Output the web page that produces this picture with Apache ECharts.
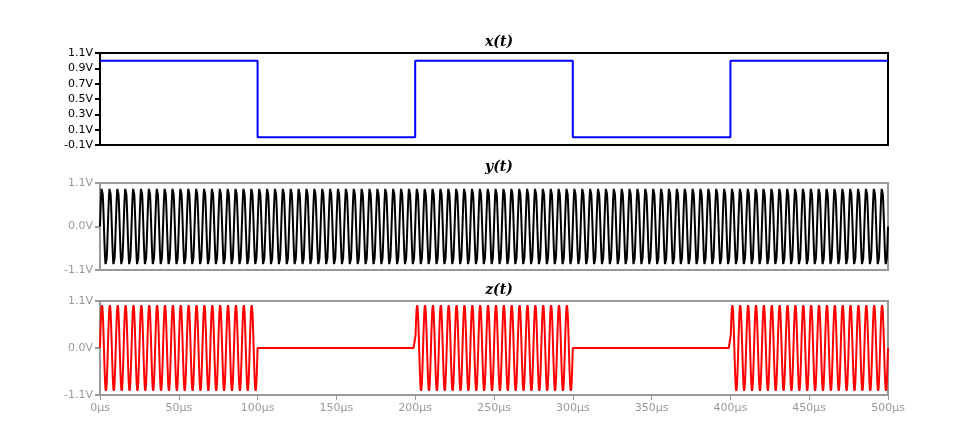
<!DOCTYPE html>
<html>
<head>
<meta charset="utf-8">
<script src="https://cdn.jsdelivr.net/npm/echarts@6/dist/echarts.min.js"></script>
<style>html,body{margin:0;padding:0;background:#fff}#c{width:954px;height:432px}</style>
</head>
<body>
<div id="c"></div>
<script>
// x(t): square wave edges (µs) and levels (V)
const gateTimes = [0, 100, 200, 300, 400, 500];
const gateLevels = [1, 0, 1, 0, 1, 1];
// y(t): carrier, 200 kHz => 5 µs per cycle, one cycle sampled in 20 steps
const carrierPeriod = 5;
const cycleShape = [0, 0.31, 0.59, 0.81, 0.95, 1, 0.95, 0.81, 0.59, 0.31,
                    0, -0.31, -0.59, -0.81, -0.95, -1, -0.95, -0.81, -0.59, -0.31];
const timeTicks = [0, 50, 100, 150, 200, 250, 300, 350, 400, 450, 500];

const xData = gateTimes.map((t, i) => [t, gateLevels[i]]);
const yData = [], zData = [];
const nCycles = 500 / carrierPeriod;
const dt = carrierPeriod / cycleShape.length;
for (let c = 0; c < nCycles; c++) {
    cycleShape.forEach((v, k) => {
        const t = c * carrierPeriod + k * dt;
        yData.push([t, v]);
        let g = 0;
        for (let i = 0; i < gateTimes.length - 1; i++) {
            if (t >= gateTimes[i] && t < gateTimes[i + 1]) g = gateLevels[i];
        }
        zData.push([t, v * g]);
    });
}
yData.push([500, 0]); zData.push([500, 0]);

const chart = echarts.init(document.getElementById('c'));
const grey = '#999';
const font = 'Segoe UI, DejaVu Sans, sans-serif';
function xAxis(idx, showLabels) {
    return {
        gridIndex: idx, type: 'value', min: 0, max: 500, interval: 50,
        axisLine: { show: false, onZero: false },
        axisTick: { show: showLabels, lineStyle: { color: grey } },
        axisLabel: { show: showLabels, color: grey, fontSize: 11, fontFamily: font, formatter: v => v + 'µs' },
        splitLine: { show: false }
    };
}
function titleAt(text, top) {
    return { text: text, left: 494, top: top, textAlign: 'center',
        textStyle: { fontFamily: 'DejaVu Serif, serif', fontStyle: 'italic', fontWeight: 'bold', fontSize: 14, color: '#000' } };
}
chart.setOption({
    animation: false,
    title: [titleAt('x(t)', 30), titleAt('y(t)', 155), titleAt('z(t)', 278)],
    grid: [
        { left: 100, right: 66, top: 53, height: 92, show: true, borderColor: '#000', borderWidth: 2 },
        { left: 100, right: 66, top: 183, height: 87, show: true, borderColor: grey, borderWidth: 2 },
        { left: 100, right: 66, top: 301, height: 94, show: true, borderColor: grey, borderWidth: 2 }
    ],
    xAxis: [xAxis(0, false), xAxis(1, false), xAxis(2, true)],
    yAxis: [
        { gridIndex: 0, type: 'value', min: -0.1, max: 1.1, interval: 0.2,
          axisLine: { show: false }, axisTick: { show: true, length: 5, lineStyle: { color: '#000', width: 2 } },
          axisLabel: { color: '#000', fontSize: 11, fontFamily: font, margin: 7, formatter: v => v.toFixed(1) + 'V' },
          splitLine: { show: false } },
        { gridIndex: 1, type: 'value', min: -1.1, max: 1.1, interval: 1.1,
          axisLine: { show: false }, axisTick: { show: true, length: 5, lineStyle: { color: grey, width: 2 } },
          axisLabel: { color: grey, fontSize: 11, fontFamily: font, margin: 7, formatter: v => v.toFixed(1) + 'V' },
          splitLine: { show: false } },
        { gridIndex: 2, type: 'value', min: -1.1, max: 1.1, interval: 1.1,
          axisLine: { show: false }, axisTick: { show: true, length: 5, lineStyle: { color: grey, width: 2 } },
          axisLabel: { color: grey, fontSize: 11, fontFamily: font, margin: 7, formatter: v => v.toFixed(1) + 'V' },
          splitLine: { show: false } }
    ],
    series: [
        { type: 'line', xAxisIndex: 0, yAxisIndex: 0, data: xData, step: 'end', showSymbol: false,
          lineStyle: { color: '#0000ff', width: 2 } },
        { type: 'line', xAxisIndex: 1, yAxisIndex: 1, data: yData, showSymbol: false,
          lineStyle: { color: '#000', width: 2 } },
        { type: 'line', xAxisIndex: 2, yAxisIndex: 2, data: zData, showSymbol: false,
          lineStyle: { color: '#ff0000', width: 2 } }
    ]
});
</script>
</body>
</html>
